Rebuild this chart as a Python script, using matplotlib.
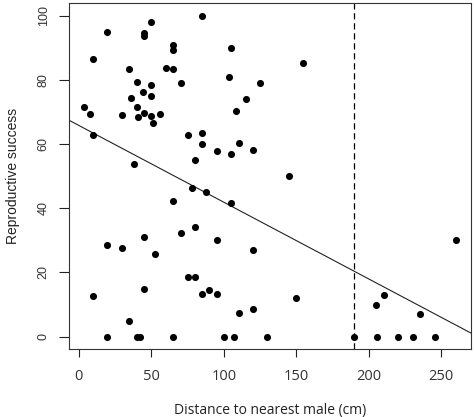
import matplotlib
matplotlib.use("Agg")
import matplotlib.pyplot as plt

# distance to nearest male (cm) and reproductive success
distance = [3.5, 8.0, 9.9, 9.9, 19.6, 29.9, 34.8, 36.2, 40.1, 40.1, 40.7, 44.0,
            45.1, 45.1, 45.1, 49.7, 49.7, 49.7, 49.7, 51.1, 55.9, 60.1, 65.1, 65.1,
            65.1, 70.2, 75.0, 80.1, 84.7, 84.7, 84.7, 95.1, 77.8, 87.7, 38.2, 103.8,
            105.0, 108.4, 115.3, 105.0, 110.5, 120.0, 125.0, 154.9, 145.2, 65.1, 105.0,
            19.6, 29.9, 45.1, 52.3, 70.2, 80.1, 95.1, 120.0, 75.0, 80.1, 9.9, 45.1,
            84.7, 89.8, 95.1, 120.0, 110.5, 34.8, 150.1, 210.6, 205.3, 235.5, 260.4,
            19.6, 39.8, 42.1, 65.0, 100.0, 107.3, 130.1, 190.1, 205.6, 220.1, 230.4, 245.6]
success = [71.6, 69.3, 62.7, 86.4, 94.9, 69.0, 83.3, 74.4, 79.2, 71.6, 68.4, 76.3,
           94.6, 93.7, 69.8, 98.0, 78.4, 75.0, 68.7, 66.6, 69.3, 83.6, 91.0, 89.4,
           83.3, 79.1, 62.7, 54.9, 100.0, 63.5, 60.0, 57.8, 46.2, 45.1, 53.8, 81.0,
           90.0, 70.2, 73.9, 56.9, 60.4, 58.1, 78.9, 85.4, 50.0, 42.2, 41.7,
           28.5, 27.5, 31.1, 25.6, 32.4, 34.2, 30.2, 27.0, 18.6, 18.6, 12.6, 14.7,
           13.2, 14.5, 13.2, 8.7, 7.4, 4.9, 12.1, 12.9, 10.0, 7.1, 30.2,
           0, 0, 0, 0, 0, 0, 0, 0, 0, 0, 0, 0]

fit_intercept = 65.8
fit_slope = -0.239
cutoff = 190

x_ticks = [0, 50, 100, 150, 200, 250]
y_ticks = [0, 20, 40, 60, 80, 100]

fig = plt.figure(figsize=(4.74, 4.17), dpi=100)
ax = fig.add_axes([0.146, 0.162, 0.847, 0.831])

ax.scatter(distance, success, s=26, color="black", zorder=3, linewidths=0)
ax.axline((0, fit_intercept), slope=fit_slope, color="#222222", lw=0.8)
ax.axvline(cutoff, color="black", lw=0.9, linestyle=(0, (5, 3)))

ax.set_xlim(-6.7, 270.5)
ax.set_ylim(-4, 104)
ax.set_xticks(x_ticks)
ax.set_yticks(y_ticks)
ax.set_xticklabels([str(t) for t in x_ticks], fontsize=10.5, family="Open Sans", color="#333333")
ax.set_yticklabels([str(t) for t in y_ticks], fontsize=9, family="Liberation Sans",
                   rotation=90, va="center", color="#333333")
ax.tick_params(axis="x", length=6, width=0.8, pad=8, color="#222222")
ax.tick_params(axis="y", length=7, width=0.8, pad=7, color="#222222")
for sp in ax.spines.values():
    sp.set_linewidth(0.8)
    sp.set_color("#333333")

ax.set_xlabel("Distance to nearest male (cm)", fontsize=10, family="Open Sans",
              color="#222222", labelpad=14)
ax.set_ylabel("Reproductive success", fontsize=10, family="Liberation Sans",
              color="#222222", labelpad=13)

fig.savefig("out.png", dpi=100)
